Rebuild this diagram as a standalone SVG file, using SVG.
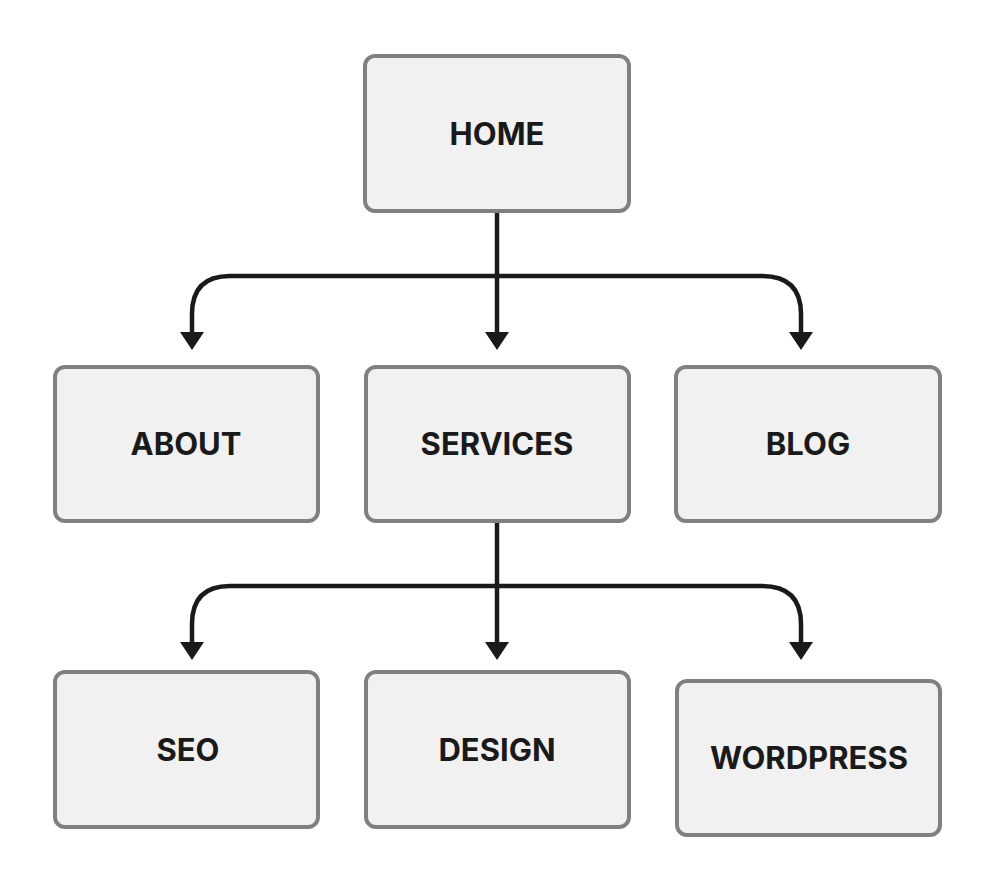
<svg xmlns="http://www.w3.org/2000/svg" width="990" height="891" viewBox="0 0 990 891">
<style>
.b{fill:#f1f1f1;stroke:#808080;stroke-width:4}
.t{font-family:Inter,"Liberation Sans",sans-serif;font-weight:700;font-size:31px;fill:#1a1a1a;text-anchor:middle;dominant-baseline:central}
.c{fill:none;stroke:#1a1a1a;stroke-width:4.5}
</style>
<rect width="990" height="891" fill="#fff"/>
<g id="connectors">
<path class="c" d="M497,211V276"/>
<path class="c" d="M230,276H762"/>
<path d="M497,276V335" class="c"/><polygon points="485,332 509,332 497,350" fill="#1a1a1a"/>
<path d="M230,276Q192,276 192,314V335" class="c"/><polygon points="180,332 204,332 192,350" fill="#1a1a1a"/>
<path d="M762,276Q801,276 801,314V335" class="c"/><polygon points="789,332 813,332 801,350" fill="#1a1a1a"/>
<path class="c" d="M497,521V586"/>
<path class="c" d="M230,586H762"/>
<path d="M497,586V645" class="c"/><polygon points="485,642 509,642 497,660" fill="#1a1a1a"/>
<path d="M230,586Q192,586 192,624V645" class="c"/><polygon points="180,642 204,642 192,660" fill="#1a1a1a"/>
<path d="M762,586Q801,586 801,624V645" class="c"/><polygon points="789,642 813,642 801,660" fill="#1a1a1a"/>
</g>
<g id="home"><rect class="b" x="365" y="56" width="264" height="155" rx="10"/><text class="t" x="497" y="133">HOME</text></g>
<g id="about"><rect class="b" x="55" y="367" width="263" height="154" rx="10"/><text class="t" x="186" y="443">ABOUT</text></g>
<g id="services"><rect class="b" x="366" y="367" width="263" height="154" rx="10"/><text class="t" x="497" y="443">SERVICES</text></g>
<g id="blog"><rect class="b" x="676" y="367" width="264" height="154" rx="10"/><text class="t" x="808" y="443">BLOG</text></g>
<g id="seo"><rect class="b" x="55" y="672" width="263" height="155" rx="10"/><text class="t" x="188" y="749">SEO</text></g>
<g id="design"><rect class="b" x="366" y="672" width="263" height="155" rx="10"/><text class="t" x="497" y="749">DESIGN</text></g>
<g id="wordpress"><rect class="b" x="677" y="681" width="263" height="154" rx="10"/><text class="t" x="809" y="757">WORDPRESS</text></g>
</svg>
